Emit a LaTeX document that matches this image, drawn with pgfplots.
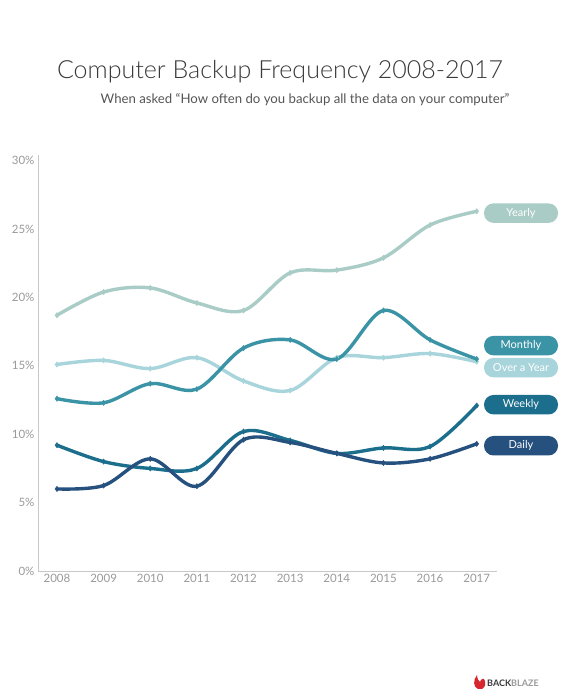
\documentclass[border=0pt]{standalone}
\usepackage{pgfplots}
\pgfplotsset{compat=1.18}
\usepackage{fontspec}
\setmainfont{Lato}
\newfontfamily\titlefont{Lato Light}
\definecolor{cyearly}{HTML}{A9CCC6}
\definecolor{cmonthly}{HTML}{3B93A6}
\definecolor{cover}{HTML}{A8D4DB}
\definecolor{cweekly}{HTML}{1C6E8D}
\definecolor{cdaily}{HTML}{26517F}
\definecolor{axgray}{HTML}{C8C8C8}
\definecolor{tickgray}{HTML}{9A9A9A}
\definecolor{titlegray}{HTML}{3A3A3A}
\definecolor{subgray}{HTML}{555555}
\definecolor{bbred}{HTML}{D8262E}
\tikzset{pill/.style={fill=#1, text=white, rounded corners=9.5pt, minimum width=74pt, minimum height=19.5pt, inner sep=0pt, font=\fontsize{11}{12}\selectfont}}
\begin{document}
\begin{tikzpicture}[x=1pt,y=1pt]
\path[use as bounding box,fill=white] (0,0) rectangle (560,700);
\node[font=\titlefont\fontsize{25}{28}\selectfont,text=titlegray] at (280,628) {Computer Backup Frequency 2008-2017};
\node[font=\fontsize{13.2}{15}\selectfont,text=subgray] at (305,600) {When asked “How often do you backup all the data on your computer”};
\begin{axis}[
  at={(38pt,129pt)}, anchor=south west,
  scale only axis, width=459pt, height=416pt,
  xmin=2007.593, xmax=2017.435, ymin=0, ymax=30.42,
  axis lines=left, axis line style={axgray, line width=0.8pt, -},
  xtick={2008,...,2017}, ytick={0,5,...,30},
  xticklabel style={/pgf/number format/1000 sep=},
  yticklabel={\pgfmathprintnumber{\tick}\%},
  major tick length=0pt,
  tick label style={font=\fontsize{11.5}{13}\selectfont, text=tickgray},
  /pgf/number format/assume math mode=true,
  clip=false,
  every axis plot/.append style={line width=3.4pt, smooth, tension=0.55, mark=diamond*, mark size=2.6pt, mark options={line width=0.5pt}},
]
\addplot[cyearly] coordinates {(2008,18.7) (2009,20.4) (2010,20.7) (2011,19.6) (2012,19.05) (2013,21.8) (2014,22.0) (2015,22.9) (2016,25.3) (2017,26.3)};
\addplot[cover] coordinates {(2008,15.1) (2009,15.4) (2010,14.8) (2011,15.6) (2012,13.9) (2013,13.2) (2014,15.6) (2015,15.6) (2016,15.9) (2017,15.3)};
\addplot[cmonthly] coordinates {(2008,12.6) (2009,12.3) (2010,13.7) (2011,13.3) (2012,16.3) (2013,16.9) (2014,15.5) (2015,19.05) (2016,16.9) (2017,15.5)};
\addplot[cweekly] coordinates {(2008,9.2) (2009,8.0) (2010,7.5) (2011,7.5) (2012,10.2) (2013,9.55) (2014,8.6) (2015,9.0) (2016,9.1) (2017,12.1)};
\addplot[cdaily] coordinates {(2008,6.0) (2009,6.25) (2010,8.2) (2011,6.2) (2012,9.6) (2013,9.4) (2014,8.6) (2015,7.9) (2016,8.2) (2017,9.3)};
\node[pill=cyearly] at (axis cs:2017.95,26.17) {Yearly};
\node[pill=cmonthly] at (axis cs:2017.95,16.48) {Monthly};
\node[pill=cover] at (axis cs:2017.95,14.87) {Over a Year};
\node[pill=cweekly] at (axis cs:2017.95,12.16) {Weekly};
\node[pill=cdaily] at (axis cs:2017.95,9.16) {Daily};
\end{axis}
\fill[bbred] (478,11) .. controls (473,13) and (473,20) .. (477,25) .. controls (477,21) and (479,19) .. (480,18) .. controls (481,21) and (483,22) .. (484,21) .. controls (486,18) and (486,13) .. (482,11) -- cycle;
\node[anchor=west, font=\bfseries\fontsize{9}{10}\selectfont, inner sep=0pt] at (487,17) {\textcolor{titlegray}{BACK}\textcolor{tickgray}{BLAZE}};
\end{tikzpicture}
\end{document}
